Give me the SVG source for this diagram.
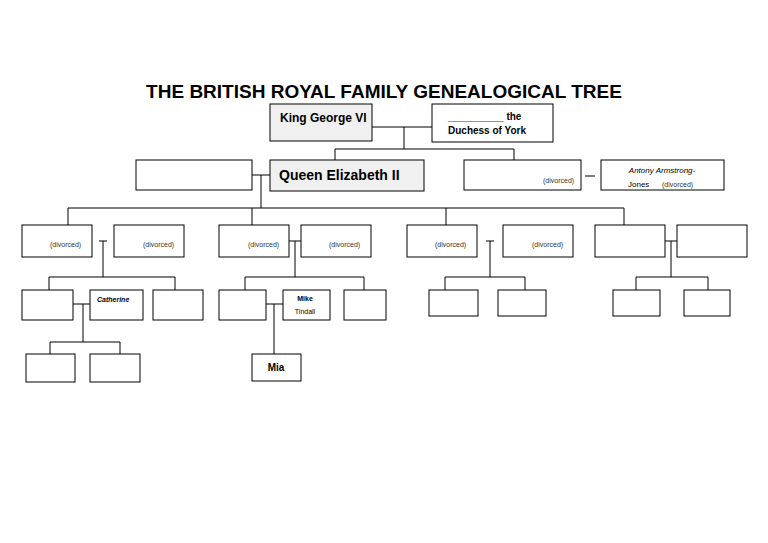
<svg xmlns="http://www.w3.org/2000/svg" width="768" height="543" viewBox="0 0 768 543">
<style>
.b{fill:#fff;stroke:#000;stroke-width:1}
.g{fill:#f0f0f0;stroke:#000;stroke-width:1}
.t{font-family:"Liberation Sans",sans-serif;font-weight:bold;fill:#000}
.d{font-family:"Liberation Sans",sans-serif;font-size:7px;fill:#333}
.c line,.c polyline{stroke:#000;stroke-width:1;fill:none}
</style>
<rect width="768" height="543" fill="#fff"/>
<text class="t" x="384" y="98" font-size="19" text-anchor="middle">THE BRITISH ROYAL FAMILY GENEALOGICAL TREE</text>
<g class="c">
<line x1="372" y1="127" x2="432" y2="127"/>
<line x1="404" y1="127" x2="404" y2="149"/>
<polyline points="335,160 335,149 514,149 514,160"/>
<line x1="252" y1="175" x2="270" y2="175"/>
<line x1="261" y1="175" x2="261" y2="208"/>
<line x1="68" y1="208" x2="624" y2="208" stroke="#777"/>
<line x1="68" y1="208" x2="68" y2="225"/>
<line x1="252" y1="208" x2="252" y2="225"/>
<line x1="446" y1="208" x2="446" y2="225"/>
<line x1="624" y1="208" x2="624" y2="225"/>
<line x1="585" y1="176" x2="595" y2="176"/>
<line x1="99" y1="241" x2="107" y2="241"/>
<line x1="103" y1="241" x2="103" y2="277" stroke="#777"/>
<polyline points="49,290 49,277 175,277 175,290"/>
<line x1="73" y1="304" x2="90" y2="304"/>
<line x1="83" y1="304" x2="83" y2="342"/>
<polyline points="50,354 50,342 120,342 120,354"/>
<line x1="289" y1="241" x2="301" y2="241"/>
<line x1="295" y1="241" x2="295" y2="277"/>
<polyline points="245,290 245,277 364,277 364,290"/>
<line x1="266" y1="304" x2="283" y2="304"/>
<line x1="274" y1="304" x2="274" y2="354"/>
<line x1="486" y1="241" x2="494" y2="241"/>
<line x1="490" y1="241" x2="490" y2="277"/>
<polyline points="445,290 445,277 525,277 525,290"/>
<line x1="665" y1="241" x2="677" y2="241"/>
<line x1="671" y1="241" x2="671" y2="277"/>
<polyline points="636,290 636,277 708,277 708,290"/>
</g>
<g id="king"><rect class="g" x="270" y="104" width="102" height="37"/><text class="t" x="280" y="122" font-size="12">King George VI</text></g>
<g id="duchess"><rect class="b" x="432" y="104" width="121" height="38"/><text class="t" x="448" y="120" font-size="10">__________ the</text><text class="t" x="448" y="134" font-size="10">Duchess of York</text></g>
<g id="philip"><rect class="b" x="136" y="160" width="116" height="30"/></g>
<g id="queen"><rect class="g" x="270" y="160" width="154" height="31"/><text class="t" x="279" y="180" font-size="14">Queen Elizabeth II</text></g>
<g id="margaret"><rect class="b" x="464" y="160" width="117" height="30"/><text class="d" x="543" y="183">(divorced)</text></g>
<g id="antony"><rect class="b" x="601" y="160" width="123" height="30"/><text x="662" y="173" font-size="8" font-style="italic" font-family="Liberation Sans,sans-serif" text-anchor="middle">Antony Armstrong-</text><text x="628" y="187" font-size="8" font-family="Liberation Sans,sans-serif">Jones</text><text class="d" x="662" y="187">(divorced)</text></g>
<g id="charles"><rect class="b" x="22" y="225" width="70" height="32"/><text class="d" x="50" y="247">(divorced)</text></g>
<g id="diana"><rect class="b" x="114" y="225" width="70" height="32"/><text class="d" x="143" y="247">(divorced)</text></g>
<g id="anne"><rect class="b" x="219" y="225" width="70" height="32"/><text class="d" x="248" y="247">(divorced)</text></g>
<g id="mark"><rect class="b" x="301" y="225" width="70" height="32"/><text class="d" x="329" y="247">(divorced)</text></g>
<g id="andrew"><rect class="b" x="407" y="225" width="70" height="32"/><text class="d" x="435" y="247">(divorced)</text></g>
<g id="sarah"><rect class="b" x="503" y="225" width="70" height="32"/><text class="d" x="532" y="247">(divorced)</text></g>
<g id="edward"><rect class="b" x="595" y="225" width="70" height="32"/></g>
<g id="sophie"><rect class="b" x="677" y="225" width="70" height="32"/></g>
<g id="william"><rect class="b" x="22" y="290" width="51" height="30"/></g>
<g id="catherine"><rect class="b" x="90" y="290" width="53" height="30"/><text x="97" y="302" font-size="7" font-style="italic" font-weight="bold" font-family="Liberation Sans,sans-serif">Catherine</text></g>
<g id="harry"><rect class="b" x="153" y="290" width="50" height="30"/></g>
<g id="george"><rect class="b" x="26" y="354" width="49" height="28"/></g>
<g id="charlotte"><rect class="b" x="90" y="354" width="50" height="28"/></g>
<g id="peter"><rect class="b" x="219" y="290" width="47" height="30"/></g>
<g id="mike"><rect class="b" x="283" y="290" width="47" height="30"/><text x="305" y="301" font-size="7" font-weight="bold" font-family="Liberation Sans,sans-serif" text-anchor="middle">Mike</text><text x="305" y="314" font-size="7" font-family="Liberation Sans,sans-serif" text-anchor="middle">Tindall</text></g>
<g id="zara"><rect class="b" x="344" y="290" width="42" height="30"/></g>
<g id="mia"><rect class="b" x="252" y="354" width="49" height="27"/><text class="t" x="276" y="371" font-size="10" text-anchor="middle">Mia</text></g>
<g id="beatrice"><rect class="b" x="429" y="290" width="49" height="26"/></g>
<g id="eugenie"><rect class="b" x="498" y="290" width="48" height="26"/></g>
<g id="louise"><rect class="b" x="613" y="290" width="47" height="26"/></g>
<g id="james"><rect class="b" x="684" y="290" width="46" height="26"/></g>
</svg>
